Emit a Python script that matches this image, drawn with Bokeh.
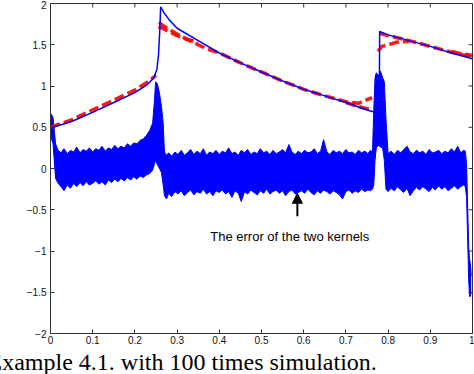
import math
from bokeh.plotting import figure
from bokeh.models import FixedTicker, Range1d, Label, Arrow, NormalHead, Title
from bokeh.embed import file_html
from bokeh.resources import INLINE

# ---------------- data ----------------
x_ticks = [0, 0.1, 0.2, 0.3, 0.4, 0.5, 0.6, 0.7, 0.8, 0.9, 1]
x_tick_labels = ["0", "0.1", "0.2", "0.3", "0.4", "0.5", "0.6", "0.7", "0.8", "0.9", "1"]
y_ticks = [-2, -1.5, -1, -0.5, 0, 0.5, 1, 1.5, 2]
y_tick_labels = ["\u22122", "\u22121.5", "\u22121", "\u22120.5", "0", "0.5", "1", "1.5", "2"]

# true kernel (blue solid)
true_x = [0, 0.05, 0.1, 0.15, 0.2, 0.23, 0.245, 0.252, 0.256, 0.259, 0.261, 0.27, 0.28, 0.3,
          0.35, 0.4, 0.45, 0.5, 0.55, 0.6, 0.65, 0.7, 0.75, 0.777, 0.779, 0.78, 0.8, 0.85,
          0.9, 0.95, 1.0]
true_y = [0.49, 0.57, 0.68, 0.80, 0.92, 1.02, 1.10, 1.20, 1.38, 1.68, 1.96, 1.88, 1.81, 1.70,
          1.55, 1.40, 1.28, 1.17, 1.06, 0.96, 0.88, 0.80, 0.71, 0.67, 0.67, 1.66, 1.62, 1.55,
          1.48, 1.40, 1.33]

# estimated kernels (red dashed), segments
red_xs = [
    [0, 0.05, 0.1, 0.15, 0.2, 0.23, 0.25],
    [0.257, 0.27, 0.28, 0.3, 0.33, 0.37, 0.4, 0.45, 0.5, 0.55, 0.6, 0.65, 0.7, 0.73, 0.762],
    [0.779, 0.8, 0.85, 0.9, 0.95, 1.0],
    [0.256, 0.265, 0.28, 0.3, 0.32, 0.35],
    [0.70, 0.73, 0.762],
    [0.776, 0.785, 0.80, 0.82, 0.85],
    [0.95, 0.975, 1.0],
]
red_ys = [
    [0.50, 0.59, 0.71, 0.83, 0.95, 1.05, 1.13],
    [1.77, 1.72, 1.69, 1.63, 1.55, 1.45, 1.40, 1.28, 1.17, 1.06, 0.96, 0.88, 0.81, 0.79, 0.86],
    [1.64, 1.61, 1.55, 1.48, 1.41, 1.35],
    [1.72, 1.70, 1.66, 1.61, 1.57, 1.53],
    [0.80, 0.75, 0.71],
    [1.42, 1.48, 1.50, 1.53, 1.54],
    [1.42, 1.39, 1.37],
]

# error of the two kernels (blue band: upper / lower envelope)
err_x = [0.000, 0.006, 0.012, 0.018, 0.025, 0.032, 0.040, 0.047, 0.055, 0.062, 0.070, 0.077,
         0.085, 0.092, 0.100, 0.107, 0.115, 0.122, 0.130, 0.137, 0.145, 0.152, 0.160, 0.167,
         0.175, 0.182, 0.190, 0.197, 0.205, 0.212, 0.220, 0.227, 0.235, 0.242, 0.246, 0.249,
         0.253, 0.258, 0.263, 0.267, 0.270, 0.275, 0.280, 0.287, 0.295, 0.302, 0.310, 0.317,
         0.325, 0.332, 0.340, 0.347, 0.355, 0.362, 0.370, 0.377, 0.385, 0.392, 0.400, 0.407,
         0.415, 0.422, 0.430, 0.437, 0.445, 0.452, 0.460, 0.467, 0.475, 0.482, 0.490, 0.497,
         0.505, 0.512, 0.520, 0.527, 0.535, 0.542, 0.550, 0.557, 0.565, 0.572, 0.580, 0.587,
         0.595, 0.602, 0.610, 0.617, 0.625, 0.632, 0.640, 0.647, 0.655, 0.662, 0.670, 0.677,
         0.685, 0.692, 0.700, 0.707, 0.715, 0.722, 0.730, 0.737, 0.745, 0.752, 0.758, 0.763,
         0.766, 0.769, 0.772, 0.777, 0.782, 0.787, 0.791, 0.795, 0.800, 0.807, 0.815, 0.822,
         0.830, 0.837, 0.845, 0.852, 0.860, 0.867, 0.875, 0.882, 0.890, 0.897, 0.905, 0.912,
         0.920, 0.927, 0.935, 0.942, 0.950, 0.957, 0.965, 0.972, 0.979, 0.983, 0.986, 0.989,
         0.991, 0.993, 0.995, 0.997]
err_hi = [0.67, 0.62, 0.30, 0.22, 0.19, 0.24, 0.18, 0.22, 0.20, 0.26, 0.19, 0.23,
          0.21, 0.25, 0.20, 0.24, 0.22, 0.27, 0.21, 0.25, 0.23, 0.28, 0.24, 0.27,
          0.25, 0.30, 0.27, 0.31, 0.30, 0.34, 0.36, 0.40, 0.46, 0.55, 0.80, 1.05,
          1.03, 0.92, 0.75, 0.55, 0.20, 0.16, 0.19, 0.15, 0.20, 0.17, 0.22, 0.16,
          0.19, 0.23, 0.17, 0.21, 0.18, 0.24, 0.16, 0.20, 0.18, 0.22, 0.17, 0.21,
          0.19, 0.25, 0.18, 0.20, 0.16, 0.22, 0.19, 0.23, 0.17, 0.20, 0.18, 0.24,
          0.19, 0.21, 0.17, 0.22, 0.18, 0.20, 0.23, 0.19, 0.29, 0.20, 0.17, 0.21,
          0.18, 0.22, 0.19, 0.20, 0.24, 0.18, 0.21, 0.35, 0.20, 0.17, 0.22, 0.19,
          0.21, 0.18, 0.23, 0.19, 0.20, 0.17, 0.22, 0.19, 0.21, 0.18, 0.22, 0.20,
          0.70, 1.10, 1.16, 1.12, 1.18, 1.10, 1.05, 0.60, 0.18, 0.21, 0.17, 0.22,
          0.19, 0.23, 0.27, 0.20, 0.18, 0.22, 0.19, 0.21, 0.17, 0.23, 0.19, 0.20,
          0.22, 0.18, 0.21, 0.19, 0.24, 0.20, 0.27, 0.19, 0.22, 0.21, 0.05, -0.55,
          -0.95, -1.10, -1.15, -1.30]
err_lo = [0.40, 0.30, -0.12, -0.18, -0.22, -0.27, -0.20, -0.24, -0.18, -0.22, -0.17, -0.21,
          -0.16, -0.20, -0.18, -0.15, -0.19, -0.16, -0.20, -0.14, -0.17, -0.13, -0.16, -0.12,
          -0.15, -0.11, -0.14, -0.10, -0.13, -0.09, -0.11, -0.08, -0.06, -0.02, 0.05, 0.10,
          0.05, 0.00, -0.05, -0.20, -0.33, -0.37, -0.30, -0.34, -0.28, -0.31, -0.27, -0.33,
          -0.29, -0.26, -0.32, -0.28, -0.30, -0.25, -0.31, -0.28, -0.33, -0.27, -0.29, -0.26,
          -0.31, -0.28, -0.35, -0.27, -0.30, -0.40, -0.28, -0.31, -0.26, -0.29, -0.32, -0.27,
          -0.30, -0.25, -0.31, -0.28, -0.26, -0.30, -0.27, -0.33, -0.28, -0.26, -0.31, -0.29,
          -0.27, -0.30, -0.25, -0.29, -0.32, -0.27, -0.30, -0.26, -0.28, -0.31, -0.27, -0.29,
          -0.32, -0.37, -0.28, -0.26, -0.30, -0.27, -0.29, -0.25, -0.28, -0.26, -0.27, -0.25,
          -0.20, 0.10, 0.25, 0.28, 0.26, 0.25, 0.10, -0.25, -0.28, -0.24, -0.27, -0.22,
          -0.26, -0.29, -0.24, -0.33, -0.27, -0.23, -0.26, -0.22, -0.25, -0.28, -0.23, -0.26,
          -0.21, -0.25, -0.22, -0.27, -0.24, -0.21, -0.25, -0.22, -0.20, -0.22, -0.35, -0.95,
          -1.35, -1.55, -1.55, -1.50]

arrow_x = 0.585
arrow_y0, arrow_y1 = -0.58, -0.30
note_text = "The error of the two kernels"
caption_text = "Example 4.1. with 100 times simulation."

# ---------------- figure ----------------
p = figure(width=474, height=374, output_backend="svg", toolbar_location=None,
           x_range=Range1d(0, 1), y_range=Range1d(-2, 2),
           min_border_left=50, min_border_right=2, min_border_top=3, min_border_bottom=39)
p.background_fill_color = "white"
p.border_fill_color = "white"
p.outline_line_color = "#333333"
p.outline_line_width = 1
p.grid.visible = False

AX = "#333333"
for ax in (p.xaxis[0], p.yaxis[0]):
    ax.axis_line_color = AX
    ax.major_tick_line_color = AX
    ax.major_tick_in = 4
    ax.major_tick_out = 0
    ax.minor_tick_line_color = None
    ax.major_label_text_font = "Liberation Sans"
    ax.major_label_text_font_size = "10px"
    ax.major_label_text_color = "#111111"

p.xaxis.ticker = FixedTicker(ticks=x_ticks)
p.xaxis.major_label_overrides = dict(zip(x_ticks, x_tick_labels))
p.xaxis.major_label_standoff = 2
p.yaxis.ticker = FixedTicker(ticks=y_ticks)
p.yaxis.major_label_overrides = dict(zip(y_ticks, y_tick_labels))
p.yaxis.major_label_standoff = 4

# inward ticks on the top and right edges of the box (half of each mark is clipped)
p.scatter(x=x_ticks, y=[y_ticks[-1]] * len(x_ticks), marker="dash", angle=math.pi / 2,
          size=8, line_color=AX, line_width=1)
p.scatter(x=[x_ticks[-1]] * len(y_ticks), y=y_ticks, marker="dash",
          size=8, line_color=AX, line_width=1)

# error band
p.varea(x=err_x, y1=err_lo, y2=err_hi, fill_color="#0000ff")
p.line(x=err_x, y=err_hi, line_color="#0000ff", line_width=1)
p.line(x=err_x, y=err_lo, line_color="#0000ff", line_width=1)

# estimated kernels (red dashed)
p.multi_line(xs=red_xs, ys=red_ys, line_color="#ff0000", line_width=3.5,
             line_dash="10 4", line_alpha=0.9)

# true kernel
p.line(x=true_x, y=true_y, line_color="#0000ff", line_width=1.5)

# annotation
p.add_layout(Arrow(end=NormalHead(size=10, fill_color="black", line_color="black"),
                   x_start=arrow_x, y_start=arrow_y0, x_end=arrow_x, y_end=arrow_y1,
                   line_width=2, line_color="black"))
p.add_layout(Label(x=0.567, y=-0.83, text=note_text, text_align="center",
                   text_baseline="middle", text_font="Liberation Sans",
                   text_font_size="13px", text_color="black"))

# caption below the axes (left part runs off the page, as in the reference)
p.add_layout(Title(text=caption_text, align="left", offset=-63, standoff=0,
                   text_font="Liberation Serif", text_font_size="24px",
                   text_line_height=0.85,
                   text_font_style="normal", text_color="black"), "below")

open("out.html", "w").write(file_html(p, INLINE))
